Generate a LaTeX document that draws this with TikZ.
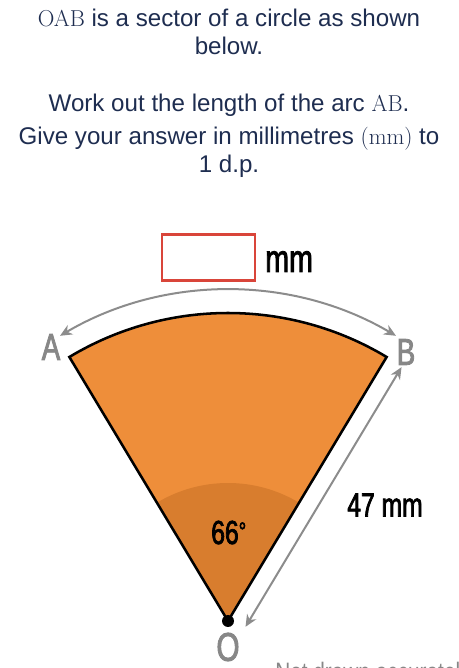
\documentclass[tikz,border=0pt]{standalone}
\usepackage[no-math]{fontspec}
\setmainfont{Liberation Sans}
\newfontfamily\condfont[FakeStretch=0.74,FakeBold=2.2]{Liberation Sans}
\newfontfamily\condlight[FakeStretch=0.78]{Liberation Sans}
\usetikzlibrary{arrows.meta,calc}
\definecolor{navy}{RGB}{30,45,80}
\definecolor{lightor}{RGB}{238,142,58}
\definecolor{darkor}{RGB}{216,125,46}
\definecolor{arrgray}{RGB}{140,140,140}
\definecolor{labgray}{RGB}{135,135,135}
\definecolor{boxred}{RGB}{217,69,58}
\tikzset{
  title/.style={anchor=base, text=navy, font=\fontsize{18.1}{20}\selectfont, inner sep=0pt},
  ptlabel/.style={text=labgray, font=\condfont\fontsize{28}{30}\selectfont, inner sep=0pt},
  measure/.style={text=black, font=\condfont\fontsize{25}{28}\selectfont, inner sep=0pt},
  garrow/.style={draw=arrgray, line width=1.5pt, {Stealth[length=9pt,width=8pt]}-{Stealth[length=9pt,width=8pt]}},
}
\begin{document}
\begin{tikzpicture}[x=0.75pt,y=0.75pt]
\useasboundingbox (0,0) rectangle (459,668);
% title text
\node[title] (t1) at (229,641) {$\mathrm{OAB}$ is a sector of a circle as shown};
\node[title] (t2) at (229,613) {below.};
\node[title] (t3) at (229,556) {Work out the length of the arc $\mathrm{AB}$.};
\node[title] (t4) at (229,523) {Give your answer in millimetres $(\mathrm{mm})$ to};
\node[title] (t5) at (229,495) {1 d.p.};
% answer box
\node[draw=boxred, line width=1.9pt, minimum width=93pt*0.75, minimum height=46pt*0.75, inner sep=0pt] (box) at (208.5,410.5) {};
\node[anchor=base west, text=black, font=\condfont\fontsize{29}{30}\selectfont, inner sep=0pt] (mmlab) at (265,396) {mm};
% sector
\coordinate (O) at (228,47);
\fill[lightor] (O) -- ++(121:308) arc[start angle=121, end angle=59, radius=308] -- cycle;
\fill[darkor] (O) -- ++(121:138) arc[start angle=121, end angle=59, radius=138] -- cycle;
\draw[black, line width=1.9pt, line join=miter] (O) -- ++(121:308) coordinate (Apt) arc[start angle=121, end angle=59, radius=308] coordinate (Bpt) -- cycle;
\fill[black] (O) circle[radius=6];
% arc arrow
\coordinate (arcA) at ($(O)+(120.5:331)$);
\coordinate (arcB) at ($(O)+(59.5:331)$);
\draw[garrow] (arcA) arc[start angle=120.5, end angle=59.5, radius=331];
% radius arrow
\coordinate (rA) at ($(O)+(59:307)+(-31:18)$);
\coordinate (rO) at ($(O)+(59:4)+(-31:18)$);
\draw[garrow] (rA) -- (rO);
% labels
\node[ptlabel] (labA) at (51,321) {A};
\node[ptlabel] (labB) at (406,316) {B};
\node[ptlabel, font=\condfont\fontsize{30}{30}\selectfont] (labO) at (228,21) {O};
\node[measure, anchor=base west] (ang) at (211,124) {66\raisebox{3pt}{\fontsize{19}{19}\selectfont°}};
\node[measure] (len) at (385,163) {47 mm};
\node[anchor=base west, text=labgray, font=\condlight\fontsize{20}{22}\selectfont, inner sep=0pt] (note) at (275,-13) {Not drawn accurately};
\end{tikzpicture}
\end{document}
